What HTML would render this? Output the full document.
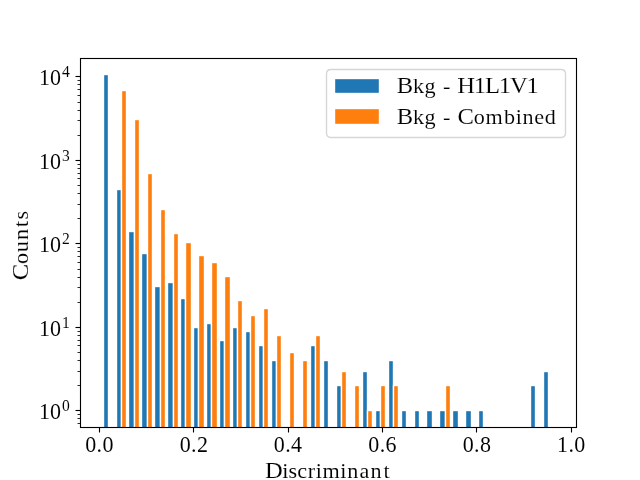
<!DOCTYPE html>
<html lang="en">
<head>
<meta charset="utf-8">
<title>Discriminant histogram</title>
<style>
html,body{margin:0;padding:0;background:#fff;}
body{width:640px;height:480px;overflow:hidden;}
svg{display:block;}
text{font-family:"Liberation Serif","DejaVu Serif",serif;}
.t{fill:#000000;stroke:#fff;stroke-width:0.112px;paint-order:fill stroke;}
.d{fill:#000000;stroke:#fff;stroke-width:0.05px;paint-order:fill stroke;}
.l{fill:#000;stroke:#fff;stroke-width:0.09px;paint-order:fill stroke;}
</style>
</head>
<body>
<svg width="640" height="480" viewBox="0 0 640 480">
<rect x="0" y="0" width="640" height="480" fill="#ffffff"/>
<defs><clipPath id="axclip"><rect x="80" y="58" width="496" height="369"/></clipPath></defs>
<!-- histogram bars -->
<g clip-path="url(#axclip)" stroke="#ffffff" stroke-width="1.389" stroke-linejoin="miter">
<rect x="103.5" y="74.5" width="5" height="365.5" fill="#1f77b4"/>
<rect x="116.5" y="189.5" width="5" height="250.5" fill="#1f77b4"/>
<rect x="128.5" y="231.5" width="6" height="208.5" fill="#1f77b4"/>
<rect x="141.5" y="253.5" width="6" height="186.5" fill="#1f77b4"/>
<rect x="154.5" y="286.5" width="6" height="153.5" fill="#1f77b4"/>
<rect x="167.5" y="282.5" width="6" height="157.5" fill="#1f77b4"/>
<rect x="180.5" y="298.5" width="5" height="141.5" fill="#1f77b4"/>
<rect x="193.5" y="327.5" width="5" height="112.5" fill="#1f77b4"/>
<rect x="206.5" y="323.5" width="5" height="116.5" fill="#1f77b4"/>
<rect x="219.5" y="340.5" width="5" height="99.5" fill="#1f77b4"/>
<rect x="232.5" y="327.5" width="5" height="112.5" fill="#1f77b4"/>
<rect x="245.5" y="331.5" width="5" height="108.5" fill="#1f77b4"/>
<rect x="258.5" y="345.5" width="5" height="94.5" fill="#1f77b4"/>
<rect x="271.5" y="360.5" width="5" height="79.5" fill="#1f77b4"/>
<rect x="310.5" y="345.5" width="5" height="94.5" fill="#1f77b4"/>
<rect x="323.5" y="360.5" width="5" height="79.5" fill="#1f77b4"/>
<rect x="336.5" y="385.5" width="5" height="54.5" fill="#1f77b4"/>
<rect x="362.5" y="371.5" width="5" height="68.5" fill="#1f77b4"/>
<rect x="375.5" y="410.5" width="5" height="29.5" fill="#1f77b4"/>
<rect x="388.5" y="360.5" width="5" height="79.5" fill="#1f77b4"/>
<rect x="401.5" y="410.5" width="5" height="29.5" fill="#1f77b4"/>
<rect x="414.5" y="410.5" width="5" height="29.5" fill="#1f77b4"/>
<rect x="426.5" y="410.5" width="6" height="29.5" fill="#1f77b4"/>
<rect x="439.5" y="410.5" width="6" height="29.5" fill="#1f77b4"/>
<rect x="452.5" y="410.5" width="6" height="29.5" fill="#1f77b4"/>
<rect x="465.5" y="410.5" width="6" height="29.5" fill="#1f77b4"/>
<rect x="478.5" y="410.5" width="5" height="29.5" fill="#1f77b4"/>
<rect x="530.5" y="385.5" width="5" height="54.5" fill="#1f77b4"/>
<rect x="543.5" y="371.5" width="5" height="68.5" fill="#1f77b4"/>
<rect x="121.5" y="90.5" width="5" height="349.5" fill="#ff7f0e"/>
<rect x="134.5" y="119.5" width="5" height="320.5" fill="#ff7f0e"/>
<rect x="147.5" y="173.5" width="5" height="266.5" fill="#ff7f0e"/>
<rect x="160.5" y="209.5" width="5" height="230.5" fill="#ff7f0e"/>
<rect x="173.5" y="233.5" width="5" height="206.5" fill="#ff7f0e"/>
<rect x="185.5" y="242.5" width="6" height="197.5" fill="#ff7f0e"/>
<rect x="198.5" y="255.5" width="6" height="184.5" fill="#ff7f0e"/>
<rect x="211.5" y="262.5" width="6" height="177.5" fill="#ff7f0e"/>
<rect x="224.5" y="276.5" width="6" height="163.5" fill="#ff7f0e"/>
<rect x="237.5" y="300.5" width="5" height="139.5" fill="#ff7f0e"/>
<rect x="250.5" y="315.5" width="5" height="124.5" fill="#ff7f0e"/>
<rect x="263.5" y="308.5" width="5" height="131.5" fill="#ff7f0e"/>
<rect x="276.5" y="335.5" width="5" height="104.5" fill="#ff7f0e"/>
<rect x="289.5" y="352.5" width="5" height="87.5" fill="#ff7f0e"/>
<rect x="302.5" y="360.5" width="5" height="79.5" fill="#ff7f0e"/>
<rect x="315.5" y="335.5" width="5" height="104.5" fill="#ff7f0e"/>
<rect x="341.5" y="371.5" width="5" height="68.5" fill="#ff7f0e"/>
<rect x="354.5" y="385.5" width="5" height="54.5" fill="#ff7f0e"/>
<rect x="367.5" y="410.5" width="5" height="29.5" fill="#ff7f0e"/>
<rect x="380.5" y="385.5" width="5" height="54.5" fill="#ff7f0e"/>
<rect x="393.5" y="385.5" width="5" height="54.5" fill="#ff7f0e"/>
<rect x="445.5" y="385.5" width="5" height="54.5" fill="#ff7f0e"/>
</g>
<!-- ticks and spines -->
<g stroke="#000000" fill="none">
<line x1="99.5" y1="427.5" x2="99.5" y2="432.5" stroke-width="1.111"/>
<line x1="193.5" y1="427.5" x2="193.5" y2="432.5" stroke-width="1.111"/>
<line x1="288.5" y1="427.5" x2="288.5" y2="432.5" stroke-width="1.111"/>
<line x1="382.5" y1="427.5" x2="382.5" y2="432.5" stroke-width="1.111"/>
<line x1="476.5" y1="427.5" x2="476.5" y2="432.5" stroke-width="1.111"/>
<line x1="571.5" y1="427.5" x2="571.5" y2="432.5" stroke-width="1.111"/>
<line x1="75.5" y1="410.5" x2="80.5" y2="410.5" stroke-width="1.111"/>
<line x1="75.5" y1="327.5" x2="80.5" y2="327.5" stroke-width="1.111"/>
<line x1="75.5" y1="243.5" x2="80.5" y2="243.5" stroke-width="1.111"/>
<line x1="75.5" y1="160.5" x2="80.5" y2="160.5" stroke-width="1.111"/>
<line x1="75.5" y1="76.5" x2="80.5" y2="76.5" stroke-width="1.111"/>
<line x1="77.5" y1="423.5" x2="80.5" y2="423.5" stroke-width="0.833"/>
<line x1="77.5" y1="418.5" x2="80.5" y2="418.5" stroke-width="0.833"/>
<line x1="77.5" y1="414.5" x2="80.5" y2="414.5" stroke-width="0.833"/>
<line x1="77.5" y1="385.5" x2="80.5" y2="385.5" stroke-width="0.833"/>
<line x1="77.5" y1="371.5" x2="80.5" y2="371.5" stroke-width="0.833"/>
<line x1="77.5" y1="360.5" x2="80.5" y2="360.5" stroke-width="0.833"/>
<line x1="77.5" y1="352.5" x2="80.5" y2="352.5" stroke-width="0.833"/>
<line x1="77.5" y1="345.5" x2="80.5" y2="345.5" stroke-width="0.833"/>
<line x1="77.5" y1="340.5" x2="80.5" y2="340.5" stroke-width="0.833"/>
<line x1="77.5" y1="335.5" x2="80.5" y2="335.5" stroke-width="0.833"/>
<line x1="77.5" y1="331.5" x2="80.5" y2="331.5" stroke-width="0.833"/>
<line x1="77.5" y1="302.5" x2="80.5" y2="302.5" stroke-width="0.833"/>
<line x1="77.5" y1="287.5" x2="80.5" y2="287.5" stroke-width="0.833"/>
<line x1="77.5" y1="277.5" x2="80.5" y2="277.5" stroke-width="0.833"/>
<line x1="77.5" y1="269.5" x2="80.5" y2="269.5" stroke-width="0.833"/>
<line x1="77.5" y1="262.5" x2="80.5" y2="262.5" stroke-width="0.833"/>
<line x1="77.5" y1="256.5" x2="80.5" y2="256.5" stroke-width="0.833"/>
<line x1="77.5" y1="251.5" x2="80.5" y2="251.5" stroke-width="0.833"/>
<line x1="77.5" y1="247.5" x2="80.5" y2="247.5" stroke-width="0.833"/>
<line x1="77.5" y1="218.5" x2="80.5" y2="218.5" stroke-width="0.833"/>
<line x1="77.5" y1="204.5" x2="80.5" y2="204.5" stroke-width="0.833"/>
<line x1="77.5" y1="193.5" x2="80.5" y2="193.5" stroke-width="0.833"/>
<line x1="77.5" y1="185.5" x2="80.5" y2="185.5" stroke-width="0.833"/>
<line x1="77.5" y1="178.5" x2="80.5" y2="178.5" stroke-width="0.833"/>
<line x1="77.5" y1="173.5" x2="80.5" y2="173.5" stroke-width="0.833"/>
<line x1="77.5" y1="168.5" x2="80.5" y2="168.5" stroke-width="0.833"/>
<line x1="77.5" y1="164.5" x2="80.5" y2="164.5" stroke-width="0.833"/>
<line x1="77.5" y1="135.5" x2="80.5" y2="135.5" stroke-width="0.833"/>
<line x1="77.5" y1="120.5" x2="80.5" y2="120.5" stroke-width="0.833"/>
<line x1="77.5" y1="110.5" x2="80.5" y2="110.5" stroke-width="0.833"/>
<line x1="77.5" y1="102.5" x2="80.5" y2="102.5" stroke-width="0.833"/>
<line x1="77.5" y1="95.5" x2="80.5" y2="95.5" stroke-width="0.833"/>
<line x1="77.5" y1="89.5" x2="80.5" y2="89.5" stroke-width="0.833"/>
<line x1="77.5" y1="84.5" x2="80.5" y2="84.5" stroke-width="0.833"/>
<line x1="77.5" y1="80.5" x2="80.5" y2="80.5" stroke-width="0.833"/>
<rect x="80.5" y="58.5" width="496" height="369" stroke-width="1.111" stroke-linejoin="miter"/>
</g>
<!-- legend -->
<path d="M330.944 69.5 L561.056 69.5 Q565.5 69.5 565.5 73.944 L565.5 133.056 Q565.5 137.5 561.056 137.5 L330.944 137.5 Q326.5 137.5 326.5 133.056 L326.5 73.944 Q326.5 69.5 330.944 69.5 Z" fill="#ffffff" fill-opacity="0.8" stroke="#cccccc" stroke-opacity="0.8" stroke-width="1.389"/>
<rect x="334.5" y="78.5" width="45" height="15" fill="#1f77b4" stroke="#ffffff" stroke-width="1.389"/>
<rect x="334.5" y="108.5" width="45" height="16" fill="#ff7f0e" stroke="#ffffff" stroke-width="1.389"/>
<text class="t" transform="translate(0 93) scale(1.05 1.01)" x="377.807 393.404 404.27 415.722 421.895 429.818 435.467 451.294 461.902 475.103 485.731 501.558" y="0" font-size="21.1" xml:space="preserve"><tspan font-size="23.4">B</tspan>kg - <tspan font-size="23.4">H1L1V1</tspan></text>
<text class="t" transform="translate(0 123.7) scale(1.05 1.01)" x="377.807 393.404 404.27 415.722 421.895 429.818 435.818 451.28 462.455 480.076 491.224 497.685 508.849 518.828" y="0" font-size="21.1" xml:space="preserve"><tspan font-size="23.4">B</tspan>kg - <tspan font-size="23.4">C</tspan>ombined</text>
<!-- axis labels -->
<text class="l" transform="translate(0 477.5) scale(1.05 1.01)" x="252.281 268.806 274.731 283.02 293.025 300.676 307.145 324.165 330.626 342.384 352.957 365.284" y="0" font-size="21.1" xml:space="preserve"><tspan font-size="23.4">D</tspan>iscriminant</text>
<text class="l" transform="rotate(-90) translate(0 27.6) scale(1.05 1.01)" x="-266.924 -251.462 -240.296 -228.546 -216.22 -209.117" y="0" font-size="21.1" xml:space="preserve"><tspan font-size="23.4">C</tspan>ounts</text>
<!-- tick labels -->
<text class="d" transform="translate(0 452) scale(0.99 1)" x="86.022 97.523 103.46" y="0" font-size="22.25" xml:space="preserve">0.0</text>
<text class="d" transform="translate(0 452) scale(0.99 1)" x="181.478 192.978 198.916" y="0" font-size="22.25" xml:space="preserve">0.2</text>
<text class="d" transform="translate(0 452) scale(0.99 1)" x="276.587 288.087 294.025" y="0" font-size="22.25" xml:space="preserve">0.4</text>
<text class="d" transform="translate(0 452) scale(0.99 1)" x="372.074 383.574 389.512" y="0" font-size="22.25" xml:space="preserve">0.6</text>
<text class="d" transform="translate(0 452) scale(0.99 1)" x="467.403 478.904 484.841" y="0" font-size="22.25" xml:space="preserve">0.8</text>
<text class="d" transform="translate(0 452) scale(0.99 1)" x="562.67 574.17 580.108" y="0" font-size="22.25" xml:space="preserve">1.0</text>
<text class="d" transform="translate(0 419) scale(0.99 1)" x="39.342 50.565 62.718" y="0" font-size="22.25">10<tspan font-size="15.75" dy="-7.7">0</tspan></text>
<text class="d" transform="translate(0 335.501) scale(0.99 1)" x="39.342 50.565 62.718" y="0" font-size="22.25">10<tspan font-size="15.75" dy="-7.7">1</tspan></text>
<text class="d" transform="translate(0 252.002) scale(0.99 1)" x="39.342 50.565 62.718" y="0" font-size="22.25">10<tspan font-size="15.75" dy="-7.7">2</tspan></text>
<text class="d" transform="translate(0 168.503) scale(0.99 1)" x="39.342 50.565 62.718" y="0" font-size="22.25">10<tspan font-size="15.75" dy="-7.7">3</tspan></text>
<text class="d" transform="translate(0 85.003) scale(0.99 1)" x="39.342 50.565 62.718" y="0" font-size="22.25">10<tspan font-size="15.75" dy="-7.7">4</tspan></text>
</svg>
</body>
</html>
